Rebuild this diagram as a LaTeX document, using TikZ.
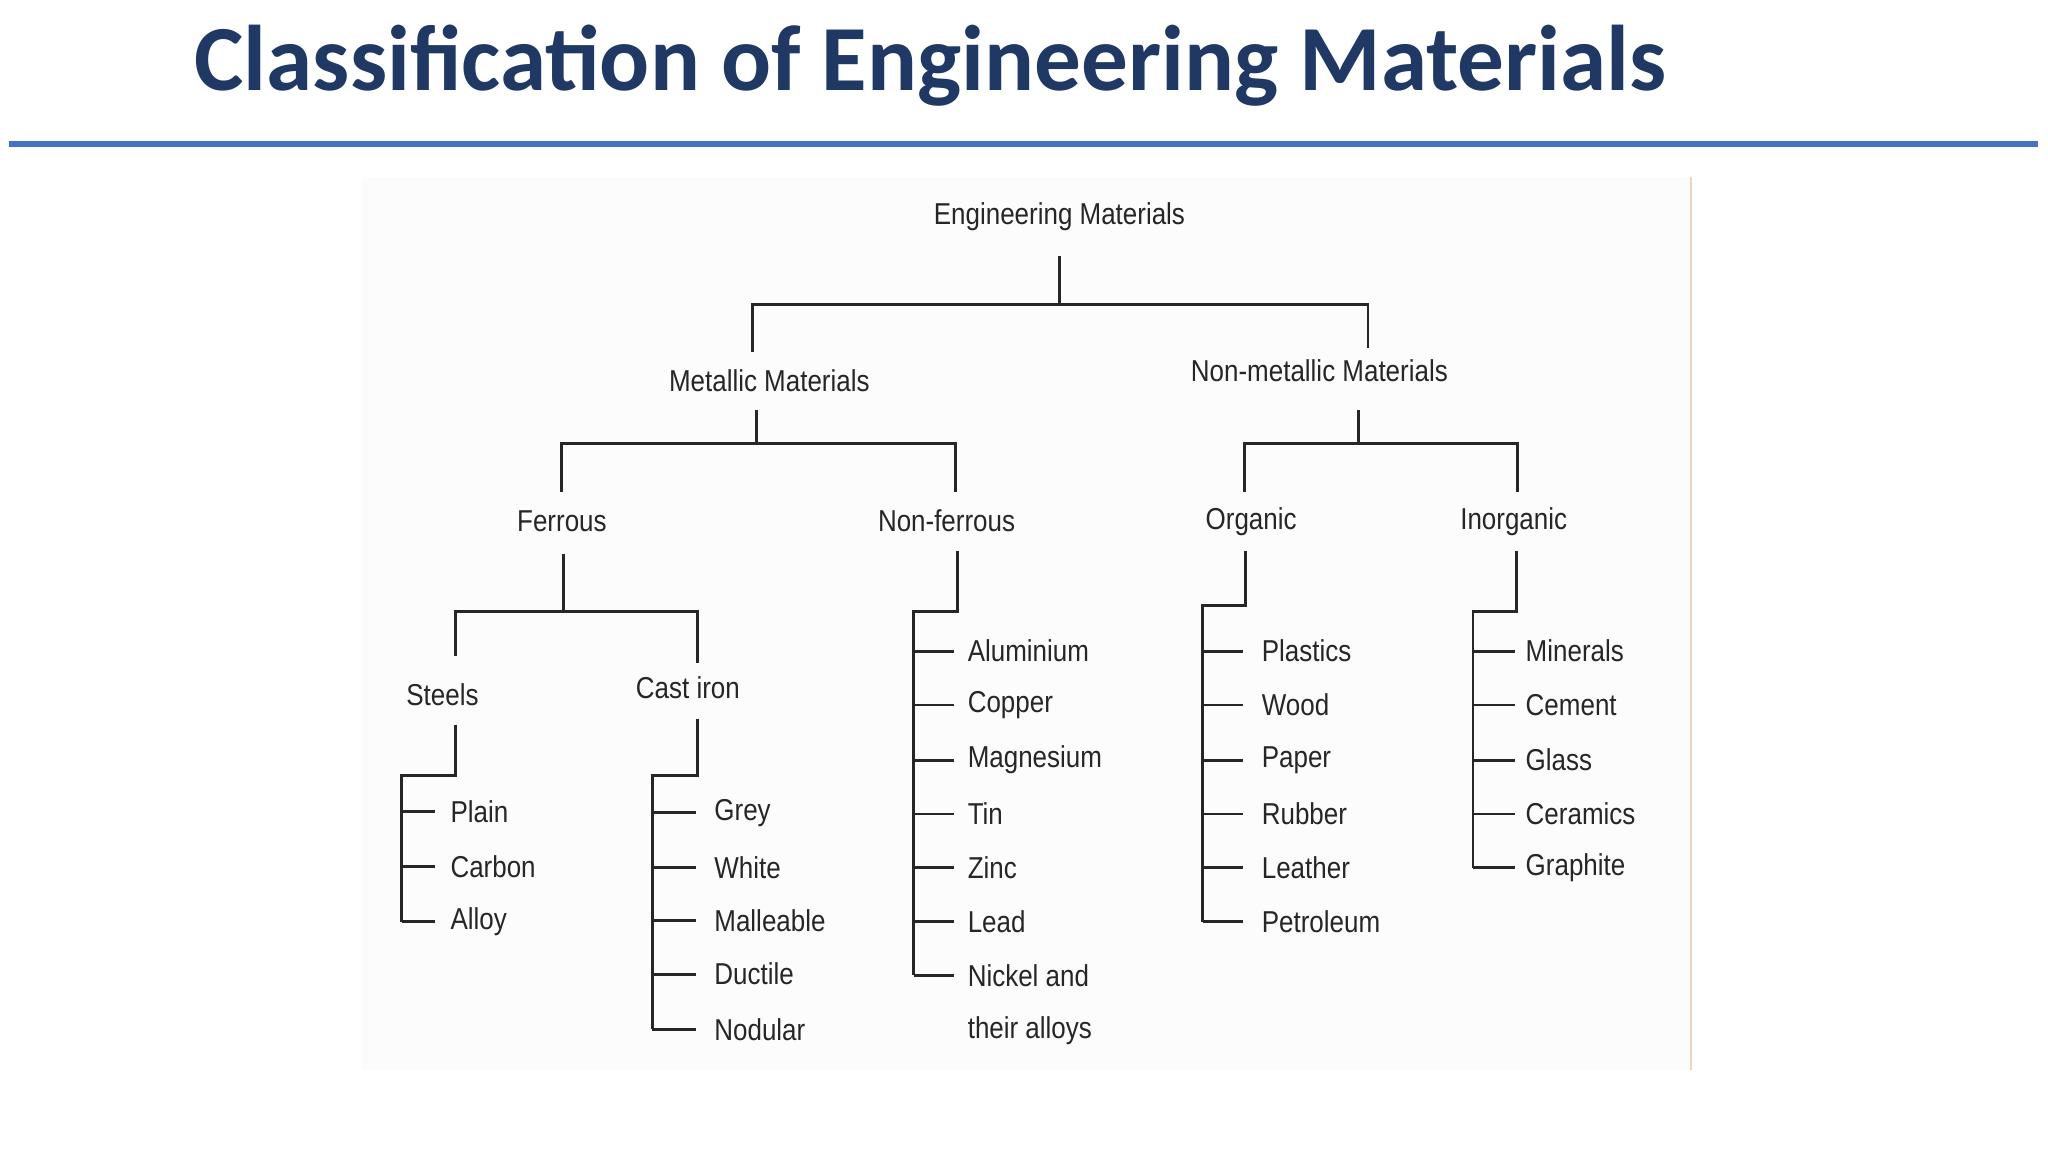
\documentclass[tikz,border=0pt]{standalone}
\usepackage{fontspec}
\setmainfont{Liberation Sans}
\newfontfamily\titlefont{Carlito}
\begin{document}
\begin{tikzpicture}[x=1pt,y=-1pt,
  lbl/.style={font=\fontsize{23}{26}\selectfont, text=black!85, inner sep=0pt, xscale=0.86},
  leaf/.style={lbl, anchor=west},
  ln/.style={line width=2.2pt, black!85}]
\useasboundingbox (0,0) rectangle (1560,877.5);
\fill[white] (0,0) rectangle (1560,877.5);
\node[font=\titlefont\bfseries\fontsize{71}{80}\selectfont, text={rgb,255:red,31;green,56;blue,100}, anchor=west, inner sep=0pt] (title) at (148,50) {Classification of Engineering Materials};
\draw[line width=4.5pt, color={rgb,255:red,68;green,114;blue,196}] (7,110) -- (1552,110);
\fill[black!1] (275,135) rectangle (1288,815);
\draw[line width=1pt, color={rgb,255:red,235;green,215;blue,190}] (1288,135) -- (1288,815);
% headings
\node[lbl] (root) at (807,165) {Engineering Materials};
\node[lbl] (met) at (586,290) {Metallic Materials};
\node[lbl] (nmet) at (1005,282) {Non-metallic Materials};
\node[lbl] (fer) at (428,397) {Ferrous};
\node[lbl] (nfer) at (721,397) {Non-ferrous};
\node[lbl] (org) at (953,397) {Organic};
\node[lbl] (inorg) at (1153,397) {Inorganic};
\node[lbl] (steel) at (337,529) {Steels};
\node[lbl] (cast) at (524,524) {Cast iron};
% tree lines
\draw[ln] (807,195) -- (807,232);
\draw[ln] (573,268) |- (1042,232) -- (1042,265);
\draw[ln] (576,312) -- (576,338);
\draw[ln] (428,375) |- (728,338) -- (728,375);
\draw[ln] (1035,312) -- (1035,338);
\draw[ln] (948,375) |- (1156,338) -- (1156,375);
\draw[ln] (429,422) -- (429,466);
\draw[ln] (347,500) |- (531,466) -- (531,505);
% leaves
\draw[ln] (347,552) -- (347,591) -- (306,591) -- (306,702);
\foreach \y/\t in {618/Plain,660/Carbon,702/Alloy}{
  \draw[ln] (306,\y) -- (331,\y); \node[leaf] (s\t) at (343,\y) {\t};}
\draw[ln] (531,548) -- (531,591) -- (497,591) -- (497,784);
\foreach \y/\t in {619/Grey,661/White,701/Malleable,742/Ductile,784/Nodular}{
  \draw[ln] (497,\y) -- (530,\y); \node[leaf] (c\t) at (544,\y) {\t};}
\draw[ln] (729,420) -- (729,466) -- (696,466) -- (696,743);
\foreach \y/\t in {496/Aluminium,537/Copper,579/Magnesium,620/Tin,661/Zinc,702/Lead,743/Nickel and}{
  \draw[ln] (696,\y) -- (727,\y); \node[leaf] at (737,\y) {\t};}
\node[leaf] (alloys) at (737,785) {their alloys};
\draw[ln] (949,420) -- (949,461) -- (916,461) -- (916,702);
\foreach \y/\t in {496/Plastics,537/Wood,579/Paper,620/Rubber,661/Leather,702/Petroleum}{
  \draw[ln] (916,\y) -- (947,\y); \node[leaf] (o\t) at (961,\y) {\t};}
\draw[ln] (1155,420) -- (1155,466) -- (1122,466) -- (1122,661);
\foreach \y/\t in {496/Minerals,537/Cement,579/Glass,620/Ceramics,661/Graphite}{
  \draw[ln] (1122,\y) -- (1154,\y); \node[leaf] (i\t) at (1162,\y) {\t};}
\end{tikzpicture}
\end{document}
